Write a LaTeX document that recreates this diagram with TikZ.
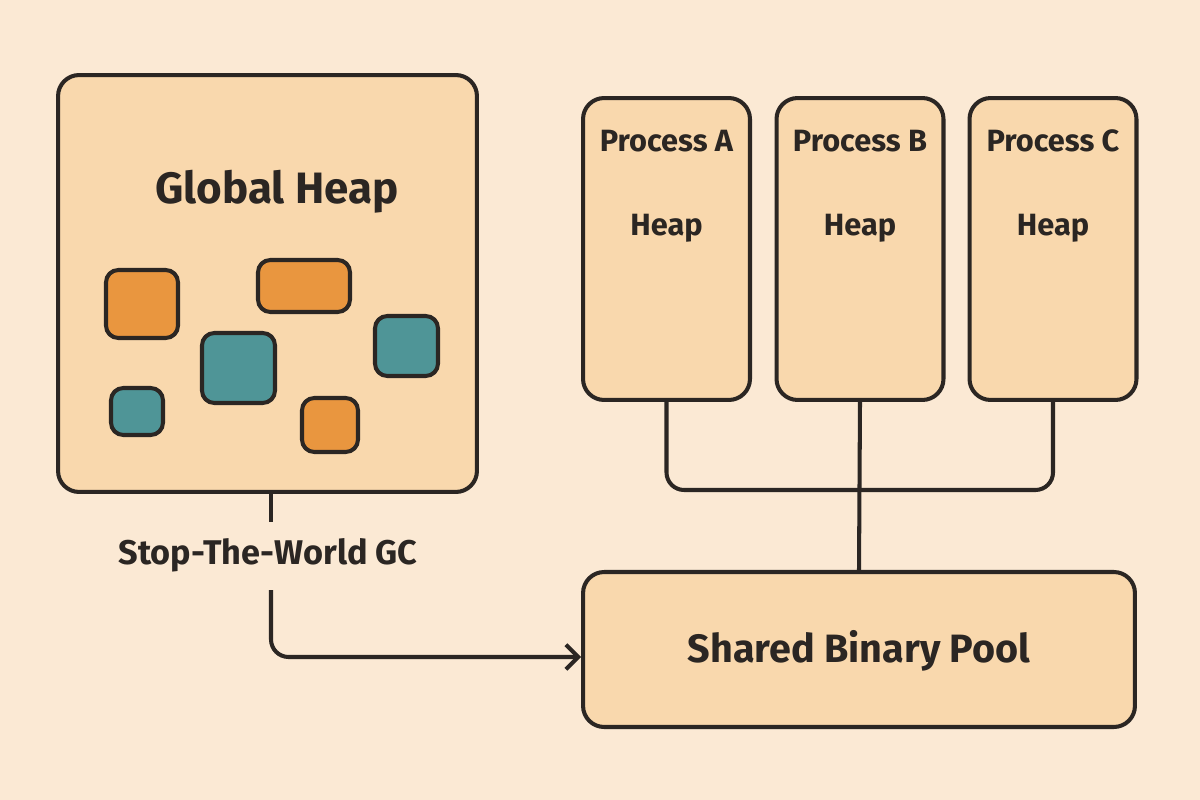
\documentclass[tikz,border=0pt]{standalone}
\usepackage{fontspec}
\setmainfont{Fira Sans}
\usetikzlibrary{positioning,arrows.meta}
\definecolor{bgpeach}{HTML}{FBE9D4}
\definecolor{boxfill}{HTML}{F9D8AD}
\definecolor{blobor}{HTML}{E9963F}
\definecolor{blobteal}{HTML}{4F9597}
\definecolor{ink}{HTML}{2B2623}
\begin{document}
\begin{tikzpicture}[x=0.02cm,y=-0.02cm,
        panel/.style={draw=ink, fill=boxfill, line width=2.3pt, rounded corners=12pt, inner sep=0pt},
        blob/.style={draw=ink, line width=2.3pt, rounded corners=7pt, inner sep=0pt},
        label/.style={text=ink, font=\bfseries},
        wire/.style={draw=ink, line width=2.3pt, rounded corners=10pt},
        arrow/.style={wire, ->, >={Straight Barb[length=7pt,width=14pt,line width=2.3pt]}}
    ]
        \fill[bgpeach] (0,0) rectangle (1200,800);
        \useasboundingbox (0,0) rectangle (1200,800);
        % global heap
        \node[panel, minimum width=8.38cm, minimum height=8.34cm] (global) at (267.5,283.5) {};
        \node[label, font=\fontsize{25}{29}\selectfont\bfseries] (globaltitle) at (277,192) {Global Heap};
        \node[blob, fill=blobor, minimum width=1.44cm, minimum height=1.36cm] (o1) at (142,304) {};
        \node[blob, fill=blobor, minimum width=1.84cm, minimum height=1.04cm] (o2) at (304,286) {};
        \node[blob, fill=blobteal, minimum width=1.46cm, minimum height=1.40cm] (t1) at (238.5,368) {};
        \node[blob, fill=blobteal, minimum width=1.26cm, minimum height=1.20cm] (t2) at (406.5,346) {};
        \node[blob, fill=blobteal, minimum width=1.04cm, minimum height=0.94cm] (t3) at (137,411.5) {};
        \node[blob, fill=blobor, minimum width=1.12cm, minimum height=1.08cm] (o3) at (330,425) {};
        % process heaps
        \foreach \name/\cx in {A/666.5, B/860, C/1053} {
            \node[panel, minimum width=3.34cm, minimum height=6.04cm] (proc\name) at (\cx,249) {};
            \node[label, font=\fontsize{17.5}{21}\selectfont\bfseries] (title\name) at (\cx,141) {Process \name};
            \node[label, font=\fontsize{17.5}{21}\selectfont\bfseries] (heap\name) at (\cx,228) {Heap};
        }
        % shared pool
        \node[panel, minimum width=11.04cm, minimum height=3.10cm] (pool) at (859,649.5) {};
        \node[label, font=\fontsize{22.5}{26}\selectfont\bfseries] (pooltext) at (859,651) {Shared Binary Pool};
        \coordinate (joint) at (860,490);
        \draw[wire] (procA.south) |- (joint);
        \draw[wire] (procC.south) |- (joint);
        \draw[wire] (procB.south) -- (pool.north);
        % gc path
        \node[label, font=\fontsize{19.5}{23}\selectfont\bfseries] (gc) at (268,555) {Stop-The-World GC};
        \draw[wire] (global.south -| 271,0) -- (271,522);
        \draw[arrow] (271,590) |- (pool.west |- 0,657);
\end{tikzpicture}
\end{document}
